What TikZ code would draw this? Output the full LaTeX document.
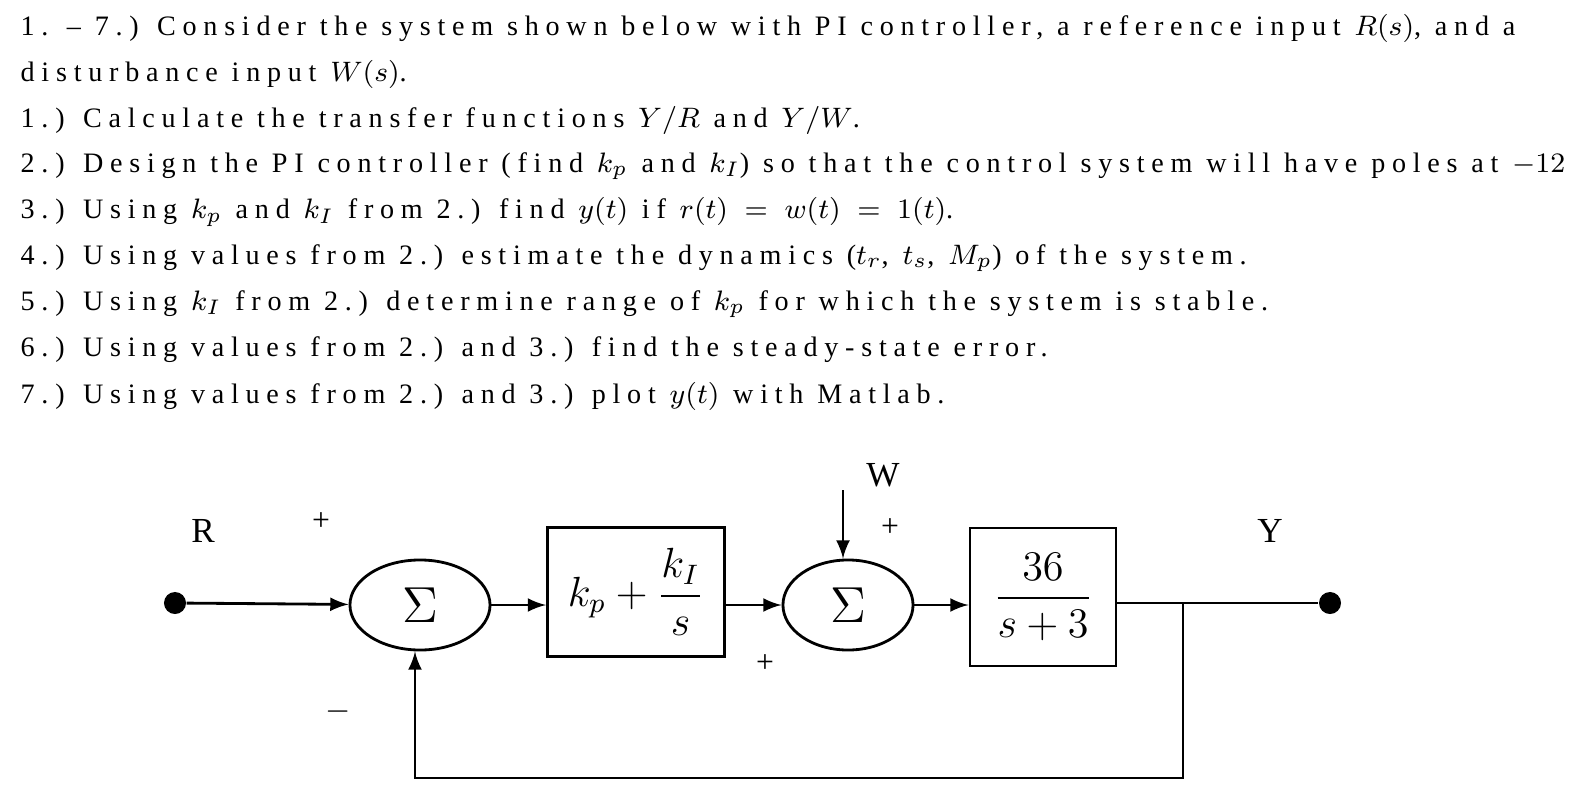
\documentclass[tikz,border=0pt]{standalone}
\usepackage{amsmath}
\usepackage{fontspec}
\setmainfont{Liberation Serif}[LetterSpace=24]
\newfontfamily\plainfont{Liberation Serif}
\usetikzlibrary{shapes.geometric}
\begin{document}
\begin{tikzpicture}[x=0.01cm,y=-0.01cm]

\tikzset{sumnode/.style={draw,thick,ellipse,minimum width=1.4cm,minimum height=0.9cm,font=\plainfont\Large},
blocknode/.style={draw,thick,rectangle,inner sep=0pt},
line/.style={thick},
arrow/.style={thick,-latex},
txt/.style={anchor=west,inner sep=0pt,font=\fontsize{8}{10}\selectfont},
sign/.style={font=\plainfont\small,inner sep=0pt}}

\useasboundingbox (0,0) rectangle (1572,797);

% Question text
\node[txt] (t1) at (20,28) {1. -- 7.) Consider the system shown below with PI controller, a reference input $R(s)$, and a};
\node[txt] (t2) at (20,74) {disturbance input $W(s)$.};
\node[txt] (t3) at (20,120) {1.) Calculate the transfer functions $Y/R$ and $Y/W$.};
\node[txt] (t4) at (20,166) {2.) Design the PI controller (find $k_p$ and $k_I$) so that the control system will have poles at $-12\pm3j$.};
\node[txt] (t5) at (20,212) {3.) Using $k_p$ and $k_I$ from 2.) find $y(t)$ if $r(t)\;=\;w(t)\;=\;1(t)$.};
\node[txt] (t6) at (20,258) {4.) Using values from 2.) estimate the dynamics ($t_r$, $t_s$, $M_p$) of the system.};
\node[txt] (t7) at (20,304) {5.) Using $k_I$ from 2.) determine range of $k_p$ for which the system is stable.};
\node[txt] (t8) at (20,350) {6.) Using values from 2.) and 3.) find the steady-state error.};
\node[txt] (t9) at (20,396) {7.) Using values from 2.) and 3.) plot $y(t)$ with Matlab.};

% Block diagram
\node[circle,fill,inner sep=0pt,minimum size=0.22cm] (in) at (175,603) {};
\node[sumnode] (s1) at (420,605) {$\Sigma$};
\node[blocknode,minimum width=1.77cm,minimum height=1.29cm] (pi) at (636,592) {\large $k_p+\dfrac{k_I}{s}$};
\node[sumnode,minimum width=1.3cm] (s2) at (848,605) {$\Sigma$};
\node[blocknode,minimum width=1.46cm,minimum height=1.38cm] (g) at (1043,597) {\large $\dfrac{36}{s+3}$};
\node[circle,fill,inner sep=0pt,minimum size=0.22cm] (out) at (1330,603) {};
\coordinate (w) at (843,490);
\coordinate (br) at (1183,603);
\coordinate (c1) at (1183,778);
\coordinate (c2) at (415,778);

\draw[arrow] (in) -- (s1);
\draw[arrow] (s1) -- (pi.west |- s1);
\draw[arrow] (pi.east |- s2) -- (s2);
\draw[arrow] (s2) -- (g.west |- s2);
\draw[line] (g.east |- out) -- (out);
\draw[arrow] (w) -- (s2.north -| w);
\draw[arrow] (br) -- (c1) -- (c2) -- (s1.south -| c2);

\node[sign,font=\plainfont\normalsize] (lr) at (203,531) {R};
\node[sign] (p1) at (321,522) {+};
\node[sign] (m1) at (338,712) {$-$};
\node[sign,font=\plainfont\normalsize] (lw) at (883,475) {W};
\node[sign] (p2) at (890,528) {+};
\node[sign] (p3) at (765,664) {+};
\node[sign,font=\plainfont\normalsize] (ly) at (1270,531) {Y};

\end{tikzpicture}
\end{document}
